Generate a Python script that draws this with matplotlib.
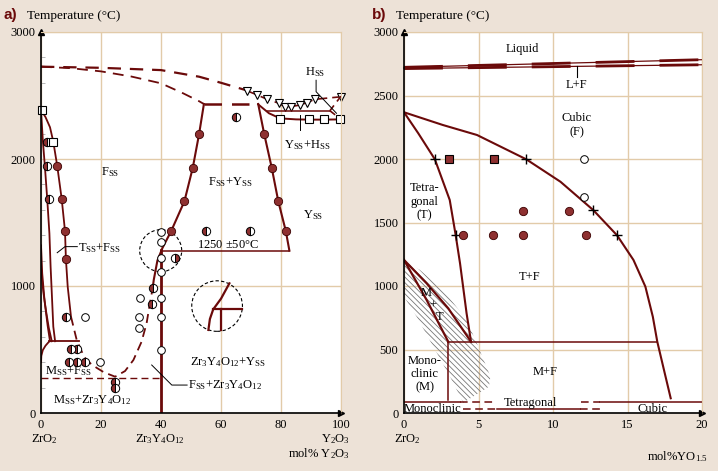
import numpy as np
import matplotlib.pyplot as plt
from matplotlib.patches import Ellipse, Polygon

# ---------------- panel a: ZrO2 - Y2O3 ----------------
liq_x = [0, 20, 40, 52.7, 60, 68.6]
liq_t = [2727, 2718, 2700, 2648, 2600, 2540]
tri_x = [68.6, 72.1, 75.2, 79.4, 81.3, 83.2, 86.3, 88.5, 91.3, 100]
tri_t = [2538, 2504, 2472, 2438, 2412, 2412, 2425, 2443, 2470, 2490]
sol_x = [0, 10, 20, 30, 40, 47.4, 52.7, 54.3]
sol_t = [2727, 2715, 2690, 2650, 2596, 2517, 2455, 2433]
perit_x = [54.3, 72.4]
perit_t = [2433, 2433]

fss_x = [0, 1.5, 3, 4.1, 5.4, 6.9, 8.0, 8.3, 8.9, 10.0]
fss_t = [2386, 2330, 2250, 2136, 1947, 1685, 1433, 1213, 995, 758]
fss_dash_x = [10.0, 11.9, 14.4, 16.5, 18.6, 21, 24.7, 28, 30.8, 33.5, 35.2, 36.2, 37.2]
fss_dash_t = [758, 575, 440, 390, 355, 320, 286, 330, 417, 560, 706, 850, 980]
fy_left_x = [54.3, 52.7, 50.6, 47.8, 43.4, 40.5, 38.8, 37.6, 37.2]
fy_left_t = [2433, 2197, 1932, 1667, 1433, 1300, 1200, 1050, 980]
fy_right_x = [72.4, 74.4, 76.9, 79.1, 81.6, 82.8]
fy_right_t = [2433, 2197, 1932, 1667, 1433, 1278]

tss_x = [0, 0.6, 1.3, 2.1, 2.8, 3.2, 3.7, 4.1, 4.7]
tss_t = [2386, 2150, 1940, 1677, 1415, 1152, 890, 680, 565]
cb_x = [0, 0.4, 1.2, 2.2, 3.0]
cb_t = [1320, 1100, 880, 690, 565]
cc_x = [0, 0.8, 1.7, 2.6, 3.6]
cc_t = [1130, 950, 800, 670, 565]
mss_x = [2.8, 1.5, 0.6, 0.1, 0]
mss_t = [565, 530, 495, 450, 400]
eutd_x = [2.8, 12.5]
eutd_t = [565, 565]
low_dash_x = [0, 40]
low_dash_t = [273, 273]
comp_x = [40, 40]
comp_t = [0, 1280]
iso_x = [40, 82.8]
iso_t = [1278, 1278]

yh_low_x = [72.4, 76, 79.7, 85, 89.4, 94.4, 100]
yh_low_t = [2430, 2360, 2320, 2312, 2310, 2310, 2312]
yh_mid_x = [75.2, 96.3]
yh_mid_t = [2380, 2380]
yh_d1_x = [96.3, 100]
yh_d1_t = [2380, 2312]
yh_d2_x = [96.3, 100]
yh_d2_t = [2380, 2495]

sph_x = [52.7, 50.6, 47.8, 43.4, 74.4, 76.9, 79.1, 81.6, 5.4, 6.9, 8.0, 8.3]
sph_t = [2197, 1932, 1667, 1433, 2197, 1932, 1667, 1433, 1947, 1685, 1433, 1213]
half_x = [64.9, 55.1, 69.7, 1.9, 2.1, 2.7, 8.3, 9.9, 12.1, 9.4, 12.1, 14.7, 24.7, 24.7, 37.4, 36.9]
half_t = [2328, 1433, 1433, 2136, 1947, 1683, 758, 504, 504, 399, 399, 399, 246, 194, 982, 858]
halfr_x = [44.7]
halfr_t = [1218]
open_x = [14.7, 19.7, 33, 32.8, 32.8, 40, 40, 40, 40, 40, 40, 40]
open_t = [753, 399, 903, 753, 667, 1428, 1344, 1218, 1113, 903, 758, 496]
sq_x = [0.2, 4.1, 79.7, 89.4, 94.4, 99.7]
sq_t = [2386, 2136, 2318, 2312, 2312, 2312]

ins_x = [55.8, 56.3, 57.4, 60, 62.8]
ins_t = [654, 740, 816, 900, 1021]
ins_h_x = [57.4, 67.1]
ins_h_t = [819, 819]
ins_v_x = [59.9, 59.9]
ins_v_t = [654, 819]

# ---------------- panel b: ZrO2 - YO1.5 ----------------
lq1_x = [0, 20]
lq1_t = [2722, 2782]
lq2_x = [0, 20]
lq2_t = [2712, 2742]
cub_x = [0, 2.6, 4.9, 8.2, 10.5, 12.7, 14.3, 15.4, 16.2, 16.7, 17.0, 17.5, 17.9]
cub_t = [2368, 2268, 2189, 1998, 1821, 1598, 1399, 1205, 995, 758, 561, 313, 116]
tet_x = [0, 0.96, 2.07, 3.07, 3.47, 3.76, 4.2, 4.5]
tet_t = [2368, 2202, 1998, 1677, 1399, 1179, 785, 561]
mt_up_x = [0, 1.52, 2.97, 4.5]
mt_up_t = [1205, 1021, 824, 561]
mt_lo_x = [0, 1.52, 2.97]
mt_lo_t = [1205, 890, 561]
hb_x = [2.97, 17.0]
hb_t = [561, 561]
vb_x = [2.97, 2.97]
vb_t = [561, 102]
hatch_x = [0, 1.07, 2.64, 4.2, 4.99, 5.8, 5.7, 3.98, 3.09, 1.97, 0.85, 0]
hatch_t = [1199, 1126, 969, 732, 522, 286, 207, 81, 286, 522, 758, 916]

cross_x = [2.07, 8.2, 12.7, 3.47, 14.3]
cross_t = [1998, 1998, 1598, 1399, 1399]
fsq_x = [3.04, 6.04]
fsq_t = [1998, 1998]
bopen_x = [12.1, 12.1]
bopen_t = [1998, 1698]
bsph_x = [8.0, 11.1, 3.98, 5.99, 8.0, 12.2]
bsph_t = [1593, 1593, 1399, 1399, 1399, 1399]

BG = '#ede2d7'
GRID = '#e2cba9'
LC = '#6b0a0a'
SPH = '#8e3030'

plt.rcParams['font.family'] = ['Liberation Serif', 'DejaVu Serif']
plt.rcParams['mathtext.fontset'] = 'custom'
plt.rcParams['mathtext.rm'] = 'Liberation Serif'
plt.rcParams['mathtext.it'] = 'Liberation Serif:italic'
plt.rcParams['font.size'] = 9
plt.rcParams['hatch.color'] = '#777777'
plt.rcParams['hatch.linewidth'] = 0.6

fig = plt.figure(figsize=(7.18, 4.71), dpi=100, facecolor=BG)
ax1 = fig.add_axes([41/718, 58/471, 300/718, 381/471])
ax2 = fig.add_axes([404/718, 58/471, 298/718, 381/471])


def style(ax, xmax, xstep, ystep):
    ax.set_xlim(0, xmax)
    ax.set_ylim(0, 3000)
    ax.set_xticks(np.arange(0, xmax + 0.1, xstep))
    ax.set_yticks(np.arange(0, 3001, ystep))
    ax.grid(True, color=GRID, lw=1)
    ax.set_axisbelow(True)
    ax.tick_params(length=0, pad=4, labelsize=9)
    for s in ['top', 'right']:
        ax.spines[s].set_color(GRID)
    for s in ['left', 'bottom']:
        ax.spines[s].set_color('k')
        ax.spines[s].set_linewidth(1.2)
    ax.plot(0, 1, marker='^', color='k', ms=4, transform=ax.transAxes, clip_on=False)
    ax.plot(1, 0, marker='>', color='k', ms=4, transform=ax.transAxes, clip_on=False)


style(ax1, 100, 20, 1000)
style(ax2, 20, 5, 500)
ax1.set_yticks([t for t in range(200, 3000, 200) if t % 1000], minor=True)
ax1.tick_params(which='minor', direction='in', length=3, color='#aaaaaa')

sub = r'$_{\mathrm{SS}}$'

# ---- panel a lines
ax1.plot(liq_x, liq_t, color=LC, lw=1.6, ls=(0, (6, 4)))
ax1.plot(tri_x, tri_t, color=LC, lw=1.2, ls=(0, (6, 3)))
ax1.plot(tri_x, tri_t, 'v', ms=5.5, mfc='white', mec='k', mew=0.8, clip_on=False)
ax1.plot(sol_x, sol_t, color=LC, lw=1.3, ls=(0, (6, 4)))
ax1.plot(perit_x, perit_t, color=LC, lw=1.8, ls=(0, (7, 4)))
ax1.plot(fss_x, fss_t, color=LC, lw=1.3)
ax1.plot(fss_dash_x, fss_dash_t, color=LC, lw=1.3, ls=(0, (5, 3)))
ax1.plot(fy_left_x, fy_left_t, color=LC, lw=1.5)
ax1.plot(fy_right_x, fy_right_t, color=LC, lw=1.5)
ax1.plot(tss_x, tss_t, color=LC, lw=1.3)
ax1.plot(cb_x, cb_t, color=LC, lw=1.3)
ax1.plot(cc_x, cc_t, color=LC, lw=1.3)
ax1.plot(mss_x, mss_t, color=LC, lw=1.3)
ax1.plot(eutd_x, eutd_t, color=LC, lw=1.3)
ax1.plot(low_dash_x, low_dash_t, color=LC, lw=1.0, ls=(0, (5, 3)))
ax1.plot(comp_x, comp_t, color=LC, lw=2)
ax1.plot(iso_x, iso_t, color=LC, lw=1.1)
ax1.plot(yh_low_x, yh_low_t, color=LC, lw=1.4)
ax1.plot(yh_mid_x, yh_mid_t, color=LC, lw=1.1)
ax1.plot(yh_d1_x, yh_d1_t, color=LC, lw=1.2, ls=(0, (4, 3)))
ax1.plot(yh_d2_x, yh_d2_t, color=LC, lw=1.2, ls=(0, (4, 3)))

# inset circles
ax1.add_patch(Ellipse((39.9, 1278), 14, 331, fill=False, ls=(0, (3, 2)), lw=0.8, ec='k'))
ax1.add_patch(Ellipse((58.7, 842), 16.9, 398, fill=False, ls=(0, (3, 2)), lw=0.8, ec='k'))
ax1.plot(ins_x, ins_t, color=LC, lw=1.6)
ax1.plot(ins_h_x, ins_h_t, color=LC, lw=1.6)
ax1.plot(ins_v_x, ins_v_t, color=LC, lw=1.6)

# markers
ax1.plot(sph_x, sph_t, 'o', ms=6, mfc=SPH, mec='#3a0000', mew=0.6, clip_on=False)
ax1.plot(half_x, half_t, 'o', ms=6, fillstyle='left', mfc=SPH, mfcalt='white', mec='k', mew=0.7, clip_on=False)
ax1.plot(halfr_x, halfr_t, 'o', ms=6, fillstyle='right', mfc=SPH, mfcalt='white', mec='k', mew=0.7)
ax1.plot(open_x, open_t, 'o', ms=5.5, mfc='white', mec='k', mew=0.7)
ax1.plot(sq_x, sq_t, 's', ms=5.5, mfc='white', mec='k', mew=0.8, clip_on=False)

# leaders
ax1.plot([91.7, 91.7, 98.5], [2620, 2530, 2360], color='k', lw=0.7)
ax1.plot([86.3, 86.3], [2346, 2228], color='k', lw=0.7)
ax1.plot([12.1, 8, 5.4], [1310, 1310, 1262], color='k', lw=0.7)
ax1.plot([36.9, 43.6, 48.7], [378, 220, 220], color='k', lw=0.7)

# labels
ax1.text(91.3, 2688, 'H' + sub, ha='center', va='center')
ax1.text(23, 1900, 'F' + sub, ha='center', va='center')
ax1.text(63, 1821, 'F' + sub + '+Y' + sub, ha='center', va='center')
ax1.text(90.8, 1559, 'Y' + sub, ha='center', va='center')
ax1.text(88.6, 2110, 'Y' + sub + '+H' + sub, ha='center', va='center')
ax1.text(12.4, 1300, 'T' + sub + '+F' + sub, ha='left', va='center')
ax1.text(62.4, 1323, '1250 $\\pm$50°C', ha='center', va='center')
ax1.text(62.4, 404, r'Zr$_3$Y$_4$O$_{12}$+Y' + sub, ha='center', va='center')
ax1.text(49.0, 220, 'F' + sub + r'+Zr$_3$Y$_4$O$_{12}$', ha='left', va='center')
ax1.text(9.1, 330, 'M' + sub + '+F' + sub, ha='center', va='center')
ax1.text(16.9, 102, 'M' + sub + r'+Zr$_3$Y$_4$O$_{12}$', ha='center', va='center')

ax1.text(1.3, -205, r'ZrO$_2$', ha='center', va='center', clip_on=False)
ax1.text(39.7, -205, r'Zr$_3$Y$_4$O$_{12}$', ha='center', va='center', clip_on=False)
ax1.text(103, -205, r'Y$_2$O$_3$', ha='right', va='center', clip_on=False)
ax1.text(103, -320, r'mol% Y$_2$O$_3$', ha='right', va='center', clip_on=False)

# ---- panel b lines
for lx, lt in [(lq1_x, lq1_t), (lq2_x, lq2_t)]:
    ax2.plot(lx, lt, color=LC, lw=0.9, clip_on=False)
    ax2.plot(lx, lt, color=LC, lw=2.0, ls=(0, (14, 9)), clip_on=False)
ax2.plot(cub_x, cub_t, color=LC, lw=1.5)
ax2.plot(tet_x, tet_t, color=LC, lw=1.5)
ax2.add_patch(Polygon(list(zip(hatch_x, hatch_t)), closed=True, fill=False,
                      hatch='\\\\\\\\\\\\', lw=0, ec='#777777'))
ax2.plot(mt_up_x, mt_up_t, color=LC, lw=1.6)
ax2.plot(mt_lo_x, mt_lo_t, color=LC, lw=1.6)
ax2.plot(hb_x, hb_t, color=LC, lw=1.1)
ax2.plot(vb_x, vb_t, color=LC, lw=1.1)
ax2.plot([0, 3.76], [84, 84], color=LC, lw=1.1)
ax2.plot([3.76, 6.2], [84, 84], color=LC, lw=1.1, ls=(0, (5, 3)))
ax2.plot([11.9, 13.15], [84, 84], color=LC, lw=1.1, ls=(0, (5, 3)))
ax2.plot([13.15, 20], [84, 84], color=LC, lw=1.1, clip_on=False)
ax2.plot([3.98, 6.22], [29, 29], color=LC, lw=1.1, ls=(0, (5, 3)))
ax2.plot([6.22, 11.8], [29, 29], color=LC, lw=1.1)
ax2.plot([11.8, 13.15], [29, 29], color=LC, lw=1.1, ls=(0, (5, 3)))
ax2.plot([11.6, 11.6], [2735, 2643], color='k', lw=0.8)

ax2.plot(cross_x, cross_t, '+', ms=7, color='k', mew=1)
ax2.plot(fsq_x, fsq_t, 's', ms=5.5, mfc=SPH, mec='k', mew=0.8)
ax2.plot(bopen_x, bopen_t, 'o', ms=5.5, mfc='white', mec='k', mew=0.7)
ax2.plot(bsph_x, bsph_t, 'o', ms=6, mfc=SPH, mec='#3a0000', mew=0.6)

ax2.text(7.95, 2864, 'Liquid', ha='center', va='center')
ax2.text(11.6, 2580, 'L+F', ha='center', va='center')
ax2.text(11.6, 2265, 'Cubic\n(F)', ha='center', va='center', linespacing=1.3)
ax2.text(1.35, 1664, 'Tetra-\ngonal\n(T)', ha='center', va='center', linespacing=1.15)
ax2.text(8.46, 1073, 'T+F', ha='center', va='center')
ax2.text(9.46, 325, 'M+F', ha='center', va='center')
ax2.text(1.52, 943, 'M', ha='center', va='center')
ax2.text(1.93, 843, '+', ha='center', va='center')
ax2.text(2.42, 758, 'T', ha='center', va='center')
ax2.text(1.4, 305, 'Mono-\nclinic\n(M)', ha='center', va='center', linespacing=1.15)
ax2.text(1.93, 33, 'Monoclinic', ha='center', va='center')
ax2.text(8.5, 76, 'Tetragonal', ha='center', va='center')
ax2.text(16.7, 33, 'Cubic', ha='center', va='center')

ax2.text(0.25, -205, r'ZrO$_2$', ha='center', va='center', clip_on=False)
ax2.text(20.4, -345, r'mol%YO$_{1.5}$', ha='right', va='center', clip_on=False)

# panel headings
for px, lab in [(3, 'a)'), (372, 'b)')]:
    fig.text(px / 718, 1 - 15 / 471, lab, fontweight='bold', color='#6b0a0a',
             family=['Liberation Sans', 'DejaVu Sans'], fontsize=11, va='center')
    fig.text((px + 24) / 718, 1 - 16 / 471, 'Temperature (°C)', fontsize=9.5, va='center')

fig.savefig('out.png', dpi=100, facecolor=BG)
